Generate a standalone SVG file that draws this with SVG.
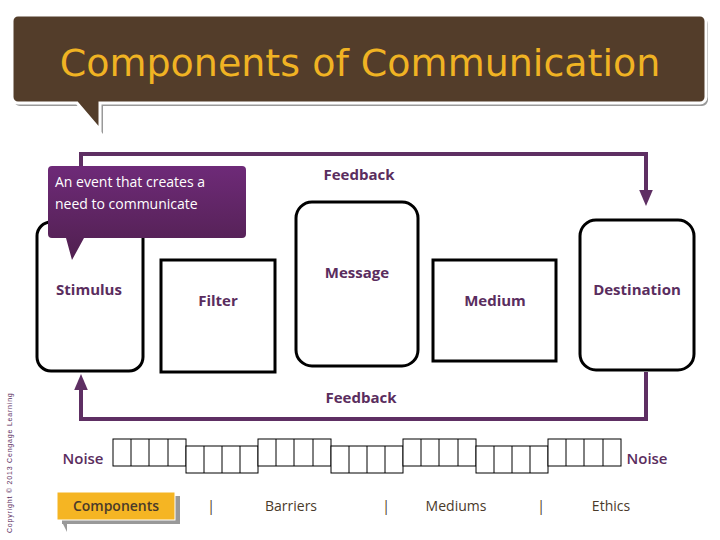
<svg xmlns="http://www.w3.org/2000/svg" width="720" height="540" viewBox="0 0 720 540">
<style>
.lbl{font-family:"Open Sans","Liberation Sans",sans-serif;font-weight:bold;font-size:15px;fill:#5a2d5e;text-anchor:middle}
.box{fill:#fff;stroke:#000;stroke-width:3}
.fb{fill:none;stroke:#5e2f63;stroke-width:4}
.tab{font-family:"Open Sans","Liberation Sans",sans-serif;font-size:14px;fill:#4a3a2a;text-anchor:middle}
.n{fill:#fff;stroke:#000;stroke-width:1}
</style>
<defs>
<marker id="ah" markerWidth="4" markerHeight="4" refX="2" refY="2" orient="auto" markerUnits="strokeWidth"><path d="M0,0.3 L4,2 L0,3.7 z" fill="#5e2f63"/></marker>
<pattern id="dummy" width="1" height="1"/>
</defs>
<rect width="720" height="540" fill="#fff"/>
<g id="header">
<path d="M20,18 H702 a6,6 0 0 1 6,6 V100 a6,6 0 0 1 -6,6 H103 V134 L80,106 H20 a6,6 0 0 1 -6,-6 V24 a6,6 0 0 1 6,-6 z" fill="#999"/>
<path d="M18,15 H700 a6,6 0 0 1 6,6 V97 a6,6 0 0 1 -6,6 H100 V130 L77,103 H18 a6,6 0 0 1 -6,-6 V21 a6,6 0 0 1 6,-6 z" fill="#533d2a" stroke="#fff" stroke-width="3"/>
<text x="360" y="76" font-family="'DejaVu Sans','Liberation Sans',sans-serif" font-size="38" fill="#f0b323" text-anchor="middle">Components of Communication</text>
</g>
<g id="connectors">
<path class="fb" d="M81,170 V154 H646 V198" marker-end="url(#ah)"/>
<path class="fb" d="M646,372 V419 H81 V382" marker-end="url(#ah)"/>
</g>
<g id="stimulus"><rect class="box" x="37" y="222" width="106" height="149" rx="14"/><text class="lbl" x="89" y="295">Stimulus</text></g>
<g id="filter"><rect class="box" x="161" y="260" width="114" height="112"/><text class="lbl" x="218" y="306">Filter</text></g>
<g id="message"><rect class="box" x="296" y="202" width="122" height="164" rx="16"/><text class="lbl" x="357" y="278">Message</text></g>
<g id="medium"><rect class="box" x="433" y="260" width="123" height="101"/><text class="lbl" x="495" y="306">Medium</text></g>
<g id="destination"><rect class="box" x="580" y="220" width="114" height="150" rx="16"/><text class="lbl" x="637" y="295">Destination</text></g>
<g id="feedback-labels"><text class="lbl" x="359" y="180">Feedback</text><text class="lbl" x="361" y="403">Feedback</text></g>
<g id="callout">
<defs><linearGradient id="pg" x1="0" y1="0" x2="0" y2="1"><stop offset="0" stop-color="#6e2a78"/><stop offset="1" stop-color="#50204f"/></linearGradient></defs>
<path d="M52,166 H242 a4,4 0 0 1 4,4 V234 a4,4 0 0 1 -4,4 H84 L72,260 L66,238 H52 a4,4 0 0 1 -4,-4 V170 a4,4 0 0 1 4,-4 z" fill="url(#pg)"/>
<text font-family="'Open Sans','Liberation Sans',sans-serif" font-size="14" fill="#fff"><tspan x="55" y="187">An event that creates a</tspan><tspan x="55" y="209">need to communicate</tspan></text>
</g>
<g id="noise">
<rect class="n" x="113" y="439" width="73" height="27"/>
<rect class="n" x="186" y="446" width="72" height="27"/>
<rect class="n" x="258" y="439" width="73" height="27"/>
<rect class="n" x="331" y="446" width="72" height="27"/>
<rect class="n" x="403" y="439" width="73" height="27"/>
<rect class="n" x="476" y="446" width="72" height="27"/>
<rect class="n" x="548" y="439" width="73" height="27"/>
<g stroke="#000" stroke-width="1">
<path d="M131,439V466M149,439V466M168,439V466M204,446V473M222,446V473M240,446V473M276,439V466M294,439V466M313,439V466M349,446V473M367,446V473M385,446V473M421,439V466M439,439V466M458,439V466M494,446V473M512,446V473M530,446V473M566,439V466M584,439V466M603,439V466"/>
</g>
<text class="lbl" x="83" y="464" font-weight="normal" style="font-weight:600">Noise</text>
<text class="lbl" x="647" y="464" style="font-weight:600">Noise</text>
</g>
<g id="tabs">
<path d="M62,496 H180 V524 H67 V532 L63,524 H62 z" fill="#999"/>
<rect x="57" y="492" width="118" height="28" fill="#f5b523" stroke="#fff" stroke-width="1"/>
<text class="tab" x="116" y="511" style="font-weight:600" fill="#4a3a2a">Components</text>
<text class="tab" x="211" y="511">|</text>
<text class="tab" x="291" y="511">Barriers</text>
<text class="tab" x="386" y="511">|</text>
<text class="tab" x="456" y="511">Mediums</text>
<text class="tab" x="541" y="511">|</text>
<text class="tab" x="611" y="511">Ethics</text>
</g>
<text transform="translate(12,533) rotate(-90)" font-family="'Liberation Sans',sans-serif" font-size="7" fill="#5a2d5e" letter-spacing="0.8">Copyright © 2013 Cengage Learning</text>
</svg>
